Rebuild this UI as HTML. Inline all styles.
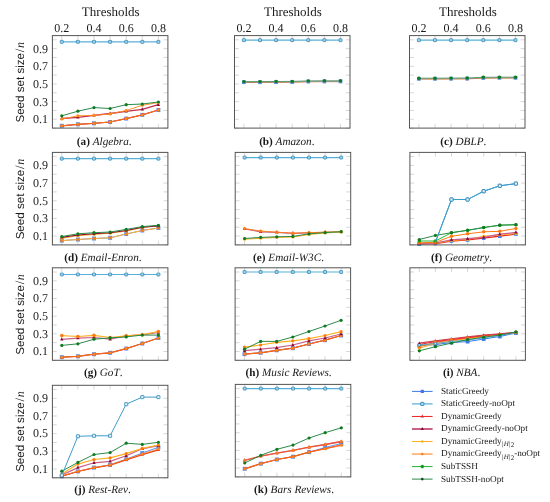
<!DOCTYPE html>
<html><head><meta charset="utf-8"><style>
html,body{margin:0;padding:0;background:#fff;}
body{width:550px;height:502px;overflow:hidden;}
svg{display:block;will-change:transform;}
text{font-family:"Liberation Serif",serif;fill:#1a1a1a;text-rendering:geometricPrecision;}
.tk{font-size:12px;}
.ttl{font-size:13px;}
.cap{font-size:11.2px;}
.lg{font-size:9.2px;}
.sub{font-size:7px;}
.sub2{font-size:7px;}
.yl{font-family:"Liberation Sans",sans-serif;font-size:11.6px;}
.sl{font-family:"Liberation Serif",serif;font-size:13px;}
.ni{font-family:"Liberation Serif",serif;font-style:italic;font-size:12px;}
</style></head><body>
<svg width="550" height="502" viewBox="0 0 550 502">
<path d="M61.8 35.6v4.2M61.8 128.1v-4.2M77.9 35.6v4.2M77.9 128.1v-4.2M94 35.6v4.2M94 128.1v-4.2M110.1 35.6v4.2M110.1 128.1v-4.2M126.2 35.6v4.2M126.2 128.1v-4.2M142.3 35.6v4.2M142.3 128.1v-4.2M158.4 35.6v4.2M158.4 128.1v-4.2M52.4 128.1h4.4M167.9 128.1h-4.4M52.4 119.27h4.4M167.9 119.27h-4.4M52.4 110.44h4.4M167.9 110.44h-4.4M52.4 101.61h4.4M167.9 101.61h-4.4M52.4 92.78h4.4M167.9 92.78h-4.4M52.4 83.95h4.4M167.9 83.95h-4.4M52.4 75.12h4.4M167.9 75.12h-4.4M52.4 66.29h4.4M167.9 66.29h-4.4M52.4 57.46h4.4M167.9 57.46h-4.4M52.4 48.63h4.4M167.9 48.63h-4.4M52.4 39.8h4.4M167.9 39.8h-4.4" stroke="#bcbcbc" stroke-width="0.6" fill="none"/>
<path d="M243.9 35.6v4.2M243.9 128.1v-4.2M260 35.6v4.2M260 128.1v-4.2M276.1 35.6v4.2M276.1 128.1v-4.2M292.2 35.6v4.2M292.2 128.1v-4.2M308.3 35.6v4.2M308.3 128.1v-4.2M324.4 35.6v4.2M324.4 128.1v-4.2M340.5 35.6v4.2M340.5 128.1v-4.2M234.5 128.1h4.4M350 128.1h-4.4M234.5 119.27h4.4M350 119.27h-4.4M234.5 110.44h4.4M350 110.44h-4.4M234.5 101.61h4.4M350 101.61h-4.4M234.5 92.78h4.4M350 92.78h-4.4M234.5 83.95h4.4M350 83.95h-4.4M234.5 75.12h4.4M350 75.12h-4.4M234.5 66.29h4.4M350 66.29h-4.4M234.5 57.46h4.4M350 57.46h-4.4M234.5 48.63h4.4M350 48.63h-4.4M234.5 39.8h4.4M350 39.8h-4.4" stroke="#bcbcbc" stroke-width="0.6" fill="none"/>
<path d="M418.9 35.6v4.2M418.9 128.1v-4.2M435 35.6v4.2M435 128.1v-4.2M451.1 35.6v4.2M451.1 128.1v-4.2M467.2 35.6v4.2M467.2 128.1v-4.2M483.3 35.6v4.2M483.3 128.1v-4.2M499.4 35.6v4.2M499.4 128.1v-4.2M515.5 35.6v4.2M515.5 128.1v-4.2M409.5 128.1h4.4M525 128.1h-4.4M409.5 119.27h4.4M525 119.27h-4.4M409.5 110.44h4.4M525 110.44h-4.4M409.5 101.61h4.4M525 101.61h-4.4M409.5 92.78h4.4M525 92.78h-4.4M409.5 83.95h4.4M525 83.95h-4.4M409.5 75.12h4.4M525 75.12h-4.4M409.5 66.29h4.4M525 66.29h-4.4M409.5 57.46h4.4M525 57.46h-4.4M409.5 48.63h4.4M525 48.63h-4.4M409.5 39.8h4.4M525 39.8h-4.4" stroke="#bcbcbc" stroke-width="0.6" fill="none"/>
<path d="M61.8 152.4v4.2M61.8 244.9v-4.2M77.9 152.4v4.2M77.9 244.9v-4.2M94 152.4v4.2M94 244.9v-4.2M110.1 152.4v4.2M110.1 244.9v-4.2M126.2 152.4v4.2M126.2 244.9v-4.2M142.3 152.4v4.2M142.3 244.9v-4.2M158.4 152.4v4.2M158.4 244.9v-4.2M52.4 244.9h4.4M167.9 244.9h-4.4M52.4 236.07h4.4M167.9 236.07h-4.4M52.4 227.24h4.4M167.9 227.24h-4.4M52.4 218.41h4.4M167.9 218.41h-4.4M52.4 209.58h4.4M167.9 209.58h-4.4M52.4 200.75h4.4M167.9 200.75h-4.4M52.4 191.92h4.4M167.9 191.92h-4.4M52.4 183.09h4.4M167.9 183.09h-4.4M52.4 174.26h4.4M167.9 174.26h-4.4M52.4 165.43h4.4M167.9 165.43h-4.4M52.4 156.6h4.4M167.9 156.6h-4.4" stroke="#bcbcbc" stroke-width="0.6" fill="none"/>
<path d="M244.6 152.4v4.2M244.6 244.9v-4.2M260.7 152.4v4.2M260.7 244.9v-4.2M276.8 152.4v4.2M276.8 244.9v-4.2M292.9 152.4v4.2M292.9 244.9v-4.2M309 152.4v4.2M309 244.9v-4.2M325.1 152.4v4.2M325.1 244.9v-4.2M341.2 152.4v4.2M341.2 244.9v-4.2M235.2 244.9h4.4M350.7 244.9h-4.4M235.2 236.07h4.4M350.7 236.07h-4.4M235.2 227.24h4.4M350.7 227.24h-4.4M235.2 218.41h4.4M350.7 218.41h-4.4M235.2 209.58h4.4M350.7 209.58h-4.4M235.2 200.75h4.4M350.7 200.75h-4.4M235.2 191.92h4.4M350.7 191.92h-4.4M235.2 183.09h4.4M350.7 183.09h-4.4M235.2 174.26h4.4M350.7 174.26h-4.4M235.2 165.43h4.4M350.7 165.43h-4.4M235.2 156.6h4.4M350.7 156.6h-4.4" stroke="#bcbcbc" stroke-width="0.6" fill="none"/>
<path d="M419.3 152.4v4.2M419.3 244.9v-4.2M435.4 152.4v4.2M435.4 244.9v-4.2M451.5 152.4v4.2M451.5 244.9v-4.2M467.6 152.4v4.2M467.6 244.9v-4.2M483.7 152.4v4.2M483.7 244.9v-4.2M499.8 152.4v4.2M499.8 244.9v-4.2M515.9 152.4v4.2M515.9 244.9v-4.2M409.9 244.9h4.4M525.4 244.9h-4.4M409.9 236.07h4.4M525.4 236.07h-4.4M409.9 227.24h4.4M525.4 227.24h-4.4M409.9 218.41h4.4M525.4 218.41h-4.4M409.9 209.58h4.4M525.4 209.58h-4.4M409.9 200.75h4.4M525.4 200.75h-4.4M409.9 191.92h4.4M525.4 191.92h-4.4M409.9 183.09h4.4M525.4 183.09h-4.4M409.9 174.26h4.4M525.4 174.26h-4.4M409.9 165.43h4.4M525.4 165.43h-4.4M409.9 156.6h4.4M525.4 156.6h-4.4" stroke="#bcbcbc" stroke-width="0.6" fill="none"/>
<path d="M61.8 267.8v4.2M61.8 360.3v-4.2M77.9 267.8v4.2M77.9 360.3v-4.2M94 267.8v4.2M94 360.3v-4.2M110.1 267.8v4.2M110.1 360.3v-4.2M126.2 267.8v4.2M126.2 360.3v-4.2M142.3 267.8v4.2M142.3 360.3v-4.2M158.4 267.8v4.2M158.4 360.3v-4.2M52.4 360.3h4.4M167.9 360.3h-4.4M52.4 351.47h4.4M167.9 351.47h-4.4M52.4 342.64h4.4M167.9 342.64h-4.4M52.4 333.81h4.4M167.9 333.81h-4.4M52.4 324.98h4.4M167.9 324.98h-4.4M52.4 316.15h4.4M167.9 316.15h-4.4M52.4 307.32h4.4M167.9 307.32h-4.4M52.4 298.49h4.4M167.9 298.49h-4.4M52.4 289.66h4.4M167.9 289.66h-4.4M52.4 280.83h4.4M167.9 280.83h-4.4M52.4 272h4.4M167.9 272h-4.4" stroke="#bcbcbc" stroke-width="0.6" fill="none"/>
<path d="M244.5 267.8v4.2M244.5 360.3v-4.2M260.6 267.8v4.2M260.6 360.3v-4.2M276.7 267.8v4.2M276.7 360.3v-4.2M292.8 267.8v4.2M292.8 360.3v-4.2M308.9 267.8v4.2M308.9 360.3v-4.2M325 267.8v4.2M325 360.3v-4.2M341.1 267.8v4.2M341.1 360.3v-4.2M235.1 360.3h4.4M350.6 360.3h-4.4M235.1 351.47h4.4M350.6 351.47h-4.4M235.1 342.64h4.4M350.6 342.64h-4.4M235.1 333.81h4.4M350.6 333.81h-4.4M235.1 324.98h4.4M350.6 324.98h-4.4M235.1 316.15h4.4M350.6 316.15h-4.4M235.1 307.32h4.4M350.6 307.32h-4.4M235.1 298.49h4.4M350.6 298.49h-4.4M235.1 289.66h4.4M350.6 289.66h-4.4M235.1 280.83h4.4M350.6 280.83h-4.4M235.1 272h4.4M350.6 272h-4.4" stroke="#bcbcbc" stroke-width="0.6" fill="none"/>
<path d="M419.3 267.8v4.2M419.3 360.3v-4.2M435.4 267.8v4.2M435.4 360.3v-4.2M451.5 267.8v4.2M451.5 360.3v-4.2M467.6 267.8v4.2M467.6 360.3v-4.2M483.7 267.8v4.2M483.7 360.3v-4.2M499.8 267.8v4.2M499.8 360.3v-4.2M515.9 267.8v4.2M515.9 360.3v-4.2M409.9 360.3h4.4M525.4 360.3h-4.4M409.9 351.47h4.4M525.4 351.47h-4.4M409.9 342.64h4.4M525.4 342.64h-4.4M409.9 333.81h4.4M525.4 333.81h-4.4M409.9 324.98h4.4M525.4 324.98h-4.4M409.9 316.15h4.4M525.4 316.15h-4.4M409.9 307.32h4.4M525.4 307.32h-4.4M409.9 298.49h4.4M525.4 298.49h-4.4M409.9 289.66h4.4M525.4 289.66h-4.4M409.9 280.83h4.4M525.4 280.83h-4.4M409.9 272h4.4M525.4 272h-4.4" stroke="#bcbcbc" stroke-width="0.6" fill="none"/>
<path d="M61.8 385.3v4.2M61.8 477.8v-4.2M77.9 385.3v4.2M77.9 477.8v-4.2M94 385.3v4.2M94 477.8v-4.2M110.1 385.3v4.2M110.1 477.8v-4.2M126.2 385.3v4.2M126.2 477.8v-4.2M142.3 385.3v4.2M142.3 477.8v-4.2M158.4 385.3v4.2M158.4 477.8v-4.2M52.4 477.8h4.4M167.9 477.8h-4.4M52.4 468.97h4.4M167.9 468.97h-4.4M52.4 460.14h4.4M167.9 460.14h-4.4M52.4 451.31h4.4M167.9 451.31h-4.4M52.4 442.48h4.4M167.9 442.48h-4.4M52.4 433.65h4.4M167.9 433.65h-4.4M52.4 424.82h4.4M167.9 424.82h-4.4M52.4 415.99h4.4M167.9 415.99h-4.4M52.4 407.16h4.4M167.9 407.16h-4.4M52.4 398.33h4.4M167.9 398.33h-4.4M52.4 389.5h4.4M167.9 389.5h-4.4" stroke="#bcbcbc" stroke-width="0.6" fill="none"/>
<path d="M244.7 384.4v4.2M244.7 476.9v-4.2M260.8 384.4v4.2M260.8 476.9v-4.2M276.9 384.4v4.2M276.9 476.9v-4.2M293 384.4v4.2M293 476.9v-4.2M309.1 384.4v4.2M309.1 476.9v-4.2M325.2 384.4v4.2M325.2 476.9v-4.2M341.3 384.4v4.2M341.3 476.9v-4.2M235.3 476.9h4.4M350.8 476.9h-4.4M235.3 468.07h4.4M350.8 468.07h-4.4M235.3 459.24h4.4M350.8 459.24h-4.4M235.3 450.41h4.4M350.8 450.41h-4.4M235.3 441.58h4.4M350.8 441.58h-4.4M235.3 432.75h4.4M350.8 432.75h-4.4M235.3 423.92h4.4M350.8 423.92h-4.4M235.3 415.09h4.4M350.8 415.09h-4.4M235.3 406.26h4.4M350.8 406.26h-4.4M235.3 397.43h4.4M350.8 397.43h-4.4M235.3 388.6h4.4M350.8 388.6h-4.4" stroke="#bcbcbc" stroke-width="0.6" fill="none"/>
<polyline points="61.8,125.8 77.9,124.3 94,123.3 110.1,122 126.2,118.6 142.3,114.9 158.4,110" fill="none" stroke="#5a90f0" stroke-width="1.0" stroke-linejoin="round" /><rect x="59.8" y="123.8" width="4" height="4" fill="#5a90f0"/><rect x="75.9" y="122.3" width="4" height="4" fill="#5a90f0"/><rect x="92" y="121.3" width="4" height="4" fill="#5a90f0"/><rect x="108.1" y="120" width="4" height="4" fill="#5a90f0"/><rect x="124.2" y="116.6" width="4" height="4" fill="#5a90f0"/><rect x="140.3" y="112.9" width="4" height="4" fill="#5a90f0"/><rect x="156.4" y="108" width="4" height="4" fill="#5a90f0"/><polyline points="61.8,125.8 77.9,124.3 94,123.3 110.1,122 126.2,118.6 142.3,114.9 158.4,110" fill="none" stroke="#f03a10" stroke-width="1.25" stroke-linejoin="round" /><polygon points="61.8,123.76 60.1,126.99 63.5,126.99" fill="#f03a10"/><polygon points="77.9,122.26 76.2,125.49 79.6,125.49" fill="#f03a10"/><polygon points="94,121.26 92.3,124.49 95.7,124.49" fill="#f03a10"/><polygon points="110.1,119.96 108.4,123.19 111.8,123.19" fill="#f03a10"/><polygon points="126.2,116.56 124.5,119.79 127.9,119.79" fill="#f03a10"/><polygon points="142.3,112.86 140.6,116.09 144,116.09" fill="#f03a10"/><polygon points="158.4,107.96 156.7,111.19 160.1,111.19" fill="#f03a10"/><polyline points="61.8,125.8 77.9,124.3 94,123.3 110.1,122 126.2,118.6 142.3,114.9 158.4,110" fill="none" stroke="#ff8418" stroke-width="0.7" stroke-linejoin="round" /><circle cx="61.8" cy="125.8" r="1.5" fill="#ff8418"/><circle cx="77.9" cy="124.3" r="1.5" fill="#ff8418"/><circle cx="94" cy="123.3" r="1.5" fill="#ff8418"/><circle cx="110.1" cy="122" r="1.5" fill="#ff8418"/><circle cx="126.2" cy="118.6" r="1.5" fill="#ff8418"/><circle cx="142.3" cy="114.9" r="1.5" fill="#ff8418"/><circle cx="158.4" cy="110" r="1.5" fill="#ff8418"/>
<polyline points="61.8,118.5 77.9,117.4 94,115.3 110.1,113.5 126.2,111.3 142.3,109.4 158.4,104.7" fill="none" stroke="#c03050" stroke-width="1.3" stroke-linejoin="round" /><polygon points="61.8,116.46 60.1,119.69 63.5,119.69" fill="#8a0a30"/><polygon points="77.9,115.36 76.2,118.59 79.6,118.59" fill="#8a0a30"/><polygon points="94,113.26 92.3,116.49 95.7,116.49" fill="#8a0a30"/><polygon points="110.1,111.46 108.4,114.69 111.8,114.69" fill="#8a0a30"/><polygon points="126.2,109.26 124.5,112.49 127.9,112.49" fill="#8a0a30"/><polygon points="142.3,107.36 140.6,110.59 144,110.59" fill="#8a0a30"/><polygon points="158.4,102.66 156.7,105.89 160.1,105.89" fill="#8a0a30"/>
<polyline points="61.8,119.1 77.9,115.8 94,115.3 110.1,114 126.2,110.5 142.3,105.3 158.4,102.5" fill="none" stroke="#ff8a18" stroke-width="0.9" stroke-linejoin="round" /><circle cx="61.8" cy="119.1" r="1.5" fill="#ff8a18"/><circle cx="77.9" cy="115.8" r="1.5" fill="#ff8a18"/><circle cx="94" cy="115.3" r="1.5" fill="#ff8a18"/><circle cx="110.1" cy="114" r="1.5" fill="#ff8a18"/><circle cx="126.2" cy="110.5" r="1.5" fill="#ff8a18"/><circle cx="142.3" cy="105.3" r="1.5" fill="#ff8a18"/><circle cx="158.4" cy="102.5" r="1.5" fill="#ff8a18"/>
<polyline points="61.8,115.8 77.9,111.2 94,107.6 110.1,108.5 126.2,104.7 142.3,104 158.4,102" fill="none" stroke="#2a8a4a" stroke-width="1.0" stroke-linejoin="round" /><circle cx="61.8" cy="115.8" r="1.6" fill="#107a20"/><circle cx="77.9" cy="111.2" r="1.6" fill="#107a20"/><circle cx="94" cy="107.6" r="1.6" fill="#107a20"/><circle cx="110.1" cy="108.5" r="1.6" fill="#107a20"/><circle cx="126.2" cy="104.7" r="1.6" fill="#107a20"/><circle cx="142.3" cy="104" r="1.6" fill="#107a20"/><circle cx="158.4" cy="102" r="1.6" fill="#107a20"/>
<polyline points="61.8,41.83 77.9,41.83 94,41.83 110.1,41.83 126.2,41.83 142.3,41.83 158.4,41.83" fill="none" stroke="#58b0d8" stroke-width="1.15" stroke-linejoin="round" /><rect x="60.3" y="40.33" width="3" height="3" rx="0.6" fill="#a6d2ea" stroke="#2a88b8" stroke-width="0.8"/><rect x="76.4" y="40.33" width="3" height="3" rx="0.6" fill="#a6d2ea" stroke="#2a88b8" stroke-width="0.8"/><rect x="92.5" y="40.33" width="3" height="3" rx="0.6" fill="#a6d2ea" stroke="#2a88b8" stroke-width="0.8"/><rect x="108.6" y="40.33" width="3" height="3" rx="0.6" fill="#a6d2ea" stroke="#2a88b8" stroke-width="0.8"/><rect x="124.7" y="40.33" width="3" height="3" rx="0.6" fill="#a6d2ea" stroke="#2a88b8" stroke-width="0.8"/><rect x="140.8" y="40.33" width="3" height="3" rx="0.6" fill="#a6d2ea" stroke="#2a88b8" stroke-width="0.8"/><rect x="156.9" y="40.33" width="3" height="3" rx="0.6" fill="#a6d2ea" stroke="#2a88b8" stroke-width="0.8"/>
<polyline points="243.9,82.5 260,82.5 276.1,82.4 292.2,82.3 308.3,81.8 324.4,81.7 340.5,81.7" fill="none" stroke="#ff7a10" stroke-width="1.0" stroke-linejoin="round" /><circle cx="243.9" cy="82.5" r="1.5" fill="#ff7a10"/><circle cx="260" cy="82.5" r="1.5" fill="#ff7a10"/><circle cx="276.1" cy="82.4" r="1.5" fill="#ff7a10"/><circle cx="292.2" cy="82.3" r="1.5" fill="#ff7a10"/><circle cx="308.3" cy="81.8" r="1.5" fill="#ff7a10"/><circle cx="324.4" cy="81.7" r="1.5" fill="#ff7a10"/><circle cx="340.5" cy="81.7" r="1.5" fill="#ff7a10"/>
<polyline points="243.9,82.2 260,82.2 276.1,82.1 292.2,82 308.3,81.5 324.4,81.4 340.5,81.4" fill="none" stroke="#5a90f0" stroke-width="0.6" stroke-linejoin="round" /><rect x="242" y="80.3" width="3.8" height="3.8" fill="#5a90f0"/><rect x="258.1" y="80.3" width="3.8" height="3.8" fill="#5a90f0"/><rect x="274.2" y="80.2" width="3.8" height="3.8" fill="#5a90f0"/><rect x="290.3" y="80.1" width="3.8" height="3.8" fill="#5a90f0"/><rect x="306.4" y="79.6" width="3.8" height="3.8" fill="#5a90f0"/><rect x="322.5" y="79.5" width="3.8" height="3.8" fill="#5a90f0"/><rect x="338.6" y="79.5" width="3.8" height="3.8" fill="#5a90f0"/>
<polyline points="243.9,81.6 260,81.6 276.1,81.5 292.2,81.4 308.3,80.9 324.4,80.8 340.5,80.8" fill="none" stroke="#5a9a6a" stroke-width="1.0" stroke-linejoin="round" /><circle cx="243.9" cy="81.6" r="1.7" fill="#107a20"/><circle cx="260" cy="81.6" r="1.7" fill="#107a20"/><circle cx="276.1" cy="81.5" r="1.7" fill="#107a20"/><circle cx="292.2" cy="81.4" r="1.7" fill="#107a20"/><circle cx="308.3" cy="80.9" r="1.7" fill="#107a20"/><circle cx="324.4" cy="80.8" r="1.7" fill="#107a20"/><circle cx="340.5" cy="80.8" r="1.7" fill="#107a20"/>
<polyline points="243.9,40.15 260,40.15 276.1,40.15 292.2,40.15 308.3,40.15 324.4,40.15 340.5,40.15" fill="none" stroke="#58b0d8" stroke-width="1.15" stroke-linejoin="round" /><rect x="242.4" y="38.65" width="3" height="3" rx="0.6" fill="#a6d2ea" stroke="#2a88b8" stroke-width="0.8"/><rect x="258.5" y="38.65" width="3" height="3" rx="0.6" fill="#a6d2ea" stroke="#2a88b8" stroke-width="0.8"/><rect x="274.6" y="38.65" width="3" height="3" rx="0.6" fill="#a6d2ea" stroke="#2a88b8" stroke-width="0.8"/><rect x="290.7" y="38.65" width="3" height="3" rx="0.6" fill="#a6d2ea" stroke="#2a88b8" stroke-width="0.8"/><rect x="306.8" y="38.65" width="3" height="3" rx="0.6" fill="#a6d2ea" stroke="#2a88b8" stroke-width="0.8"/><rect x="322.9" y="38.65" width="3" height="3" rx="0.6" fill="#a6d2ea" stroke="#2a88b8" stroke-width="0.8"/><rect x="339" y="38.65" width="3" height="3" rx="0.6" fill="#a6d2ea" stroke="#2a88b8" stroke-width="0.8"/>
<polyline points="418.9,79.1 435,79.1 451.1,79 467.2,78.9 483.3,78.2 499.4,78.1 515.5,78.1" fill="none" stroke="#ff7a10" stroke-width="1.0" stroke-linejoin="round" /><circle cx="418.9" cy="79.1" r="1.5" fill="#ff7a10"/><circle cx="435" cy="79.1" r="1.5" fill="#ff7a10"/><circle cx="451.1" cy="79" r="1.5" fill="#ff7a10"/><circle cx="467.2" cy="78.9" r="1.5" fill="#ff7a10"/><circle cx="483.3" cy="78.2" r="1.5" fill="#ff7a10"/><circle cx="499.4" cy="78.1" r="1.5" fill="#ff7a10"/><circle cx="515.5" cy="78.1" r="1.5" fill="#ff7a10"/>
<polyline points="418.9,78.8 435,78.8 451.1,78.7 467.2,78.6 483.3,77.9 499.4,77.8 515.5,77.8" fill="none" stroke="#5a90f0" stroke-width="0.6" stroke-linejoin="round" /><rect x="417" y="76.9" width="3.8" height="3.8" fill="#5a90f0"/><rect x="433.1" y="76.9" width="3.8" height="3.8" fill="#5a90f0"/><rect x="449.2" y="76.8" width="3.8" height="3.8" fill="#5a90f0"/><rect x="465.3" y="76.7" width="3.8" height="3.8" fill="#5a90f0"/><rect x="481.4" y="76" width="3.8" height="3.8" fill="#5a90f0"/><rect x="497.5" y="75.9" width="3.8" height="3.8" fill="#5a90f0"/><rect x="513.6" y="75.9" width="3.8" height="3.8" fill="#5a90f0"/>
<polyline points="418.9,78.2 435,78.2 451.1,78.1 467.2,78 483.3,77.3 499.4,77.2 515.5,77.2" fill="none" stroke="#5a9a6a" stroke-width="1.0" stroke-linejoin="round" /><circle cx="418.9" cy="78.2" r="1.7" fill="#107a20"/><circle cx="435" cy="78.2" r="1.7" fill="#107a20"/><circle cx="451.1" cy="78.1" r="1.7" fill="#107a20"/><circle cx="467.2" cy="78" r="1.7" fill="#107a20"/><circle cx="483.3" cy="77.3" r="1.7" fill="#107a20"/><circle cx="499.4" cy="77.2" r="1.7" fill="#107a20"/><circle cx="515.5" cy="77.2" r="1.7" fill="#107a20"/>
<polyline points="418.9,40.15 435,40.15 451.1,40.15 467.2,40.15 483.3,40.15 499.4,40.15 515.5,40.15" fill="none" stroke="#58b0d8" stroke-width="1.15" stroke-linejoin="round" /><rect x="417.4" y="38.65" width="3" height="3" rx="0.6" fill="#a6d2ea" stroke="#2a88b8" stroke-width="0.8"/><rect x="433.5" y="38.65" width="3" height="3" rx="0.6" fill="#a6d2ea" stroke="#2a88b8" stroke-width="0.8"/><rect x="449.6" y="38.65" width="3" height="3" rx="0.6" fill="#a6d2ea" stroke="#2a88b8" stroke-width="0.8"/><rect x="465.7" y="38.65" width="3" height="3" rx="0.6" fill="#a6d2ea" stroke="#2a88b8" stroke-width="0.8"/><rect x="481.8" y="38.65" width="3" height="3" rx="0.6" fill="#a6d2ea" stroke="#2a88b8" stroke-width="0.8"/><rect x="497.9" y="38.65" width="3" height="3" rx="0.6" fill="#a6d2ea" stroke="#2a88b8" stroke-width="0.8"/><rect x="514" y="38.65" width="3" height="3" rx="0.6" fill="#a6d2ea" stroke="#2a88b8" stroke-width="0.8"/>
<polyline points="61.8,240.6 77.9,239.5 94,238.5 110.1,237.8 126.2,234 142.3,230.5 158.4,228" fill="none" stroke="#5a90f0" stroke-width="1.0" stroke-linejoin="round" /><rect x="59.8" y="238.6" width="4" height="4" fill="#5a90f0"/><rect x="75.9" y="237.5" width="4" height="4" fill="#5a90f0"/><rect x="92" y="236.5" width="4" height="4" fill="#5a90f0"/><rect x="108.1" y="235.8" width="4" height="4" fill="#5a90f0"/><rect x="124.2" y="232" width="4" height="4" fill="#5a90f0"/><rect x="140.3" y="228.5" width="4" height="4" fill="#5a90f0"/><rect x="156.4" y="226" width="4" height="4" fill="#5a90f0"/><polyline points="61.8,240.6 77.9,239.5 94,238.5 110.1,237.8 126.2,234 142.3,230.5 158.4,228" fill="none" stroke="#ffb030" stroke-width="1.0" stroke-linejoin="round" /><circle cx="61.8" cy="240.6" r="1.55" fill="#f08020"/><circle cx="77.9" cy="239.5" r="1.55" fill="#f08020"/><circle cx="94" cy="238.5" r="1.55" fill="#f08020"/><circle cx="110.1" cy="237.8" r="1.55" fill="#f08020"/><circle cx="126.2" cy="234" r="1.55" fill="#f08020"/><circle cx="142.3" cy="230.5" r="1.55" fill="#f08020"/><circle cx="158.4" cy="228" r="1.55" fill="#f08020"/>
<polyline points="61.8,238.3 77.9,235.7 94,234.5 110.1,233.2 126.2,231 142.3,227.5 158.4,225.5" fill="none" stroke="#ffb020" stroke-width="1.0" stroke-linejoin="round" /><circle cx="61.8" cy="238.3" r="1.5" fill="#ffb020"/><circle cx="77.9" cy="235.7" r="1.5" fill="#ffb020"/><circle cx="94" cy="234.5" r="1.5" fill="#ffb020"/><circle cx="110.1" cy="233.2" r="1.5" fill="#ffb020"/><circle cx="126.2" cy="231" r="1.5" fill="#ffb020"/><circle cx="142.3" cy="227.5" r="1.5" fill="#ffb020"/><circle cx="158.4" cy="225.5" r="1.5" fill="#ffb020"/>
<polyline points="61.8,237.4 77.9,235 94,233.8 110.1,232.7 126.2,230.5 142.3,227.2 158.4,226" fill="none" stroke="#8a0a30" stroke-width="1.1" stroke-linejoin="round" /><polygon points="61.8,235.36 60.1,238.59 63.5,238.59" fill="#8a0a30"/><polygon points="77.9,232.96 76.2,236.19 79.6,236.19" fill="#8a0a30"/><polygon points="94,231.76 92.3,234.99 95.7,234.99" fill="#8a0a30"/><polygon points="110.1,230.66 108.4,233.89 111.8,233.89" fill="#8a0a30"/><polygon points="126.2,228.46 124.5,231.69 127.9,231.69" fill="#8a0a30"/><polygon points="142.3,225.16 140.6,228.39 144,228.39" fill="#8a0a30"/><polygon points="158.4,223.96 156.7,227.19 160.1,227.19" fill="#8a0a30"/>
<polyline points="61.8,236.5 77.9,233.8 94,232.7 110.1,232 126.2,229.4 142.3,226.6 158.4,225.3" fill="none" stroke="#2a8a4a" stroke-width="1.0" stroke-linejoin="round" /><circle cx="61.8" cy="236.5" r="1.6" fill="#107a20"/><circle cx="77.9" cy="233.8" r="1.6" fill="#107a20"/><circle cx="94" cy="232.7" r="1.6" fill="#107a20"/><circle cx="110.1" cy="232" r="1.6" fill="#107a20"/><circle cx="126.2" cy="229.4" r="1.6" fill="#107a20"/><circle cx="142.3" cy="226.6" r="1.6" fill="#107a20"/><circle cx="158.4" cy="225.3" r="1.6" fill="#107a20"/>
<polyline points="61.8,158.63 77.9,158.63 94,158.63 110.1,158.63 126.2,158.63 142.3,158.63 158.4,158.63" fill="none" stroke="#58b0d8" stroke-width="1.15" stroke-linejoin="round" /><rect x="60.3" y="157.13" width="3" height="3" rx="0.6" fill="#a6d2ea" stroke="#2a88b8" stroke-width="0.8"/><rect x="76.4" y="157.13" width="3" height="3" rx="0.6" fill="#a6d2ea" stroke="#2a88b8" stroke-width="0.8"/><rect x="92.5" y="157.13" width="3" height="3" rx="0.6" fill="#a6d2ea" stroke="#2a88b8" stroke-width="0.8"/><rect x="108.6" y="157.13" width="3" height="3" rx="0.6" fill="#a6d2ea" stroke="#2a88b8" stroke-width="0.8"/><rect x="124.7" y="157.13" width="3" height="3" rx="0.6" fill="#a6d2ea" stroke="#2a88b8" stroke-width="0.8"/><rect x="140.8" y="157.13" width="3" height="3" rx="0.6" fill="#a6d2ea" stroke="#2a88b8" stroke-width="0.8"/><rect x="156.9" y="157.13" width="3" height="3" rx="0.6" fill="#a6d2ea" stroke="#2a88b8" stroke-width="0.8"/>
<polyline points="244.6,228.9 260.7,231.8 276.8,232.4 292.9,233.4 309,232.8 325.1,232.3 341.2,231.8" fill="none" stroke="#c8608a" stroke-width="1.2" stroke-linejoin="round" /><polygon points="244.6,226.86 242.9,230.09 246.3,230.09" fill="#8a0a30"/><polygon points="260.7,229.76 259,232.99 262.4,232.99" fill="#8a0a30"/><polygon points="276.8,230.36 275.1,233.59 278.5,233.59" fill="#8a0a30"/><polygon points="292.9,231.36 291.2,234.59 294.6,234.59" fill="#8a0a30"/><polygon points="309,230.76 307.3,233.99 310.7,233.99" fill="#8a0a30"/><polygon points="325.1,230.26 323.4,233.49 326.8,233.49" fill="#8a0a30"/><polygon points="341.2,229.76 339.5,232.99 342.9,232.99" fill="#8a0a30"/>
<polyline points="244.6,228.6 260.7,231.1 276.8,232.2 292.9,233.2 309,232.6 325.1,232.2 341.2,231.7" fill="none" stroke="#ff7a10" stroke-width="0.9" stroke-linejoin="round" /><circle cx="244.6" cy="228.6" r="1.6" fill="#ff7a10"/><circle cx="260.7" cy="231.1" r="1.6" fill="#ff7a10"/><circle cx="276.8" cy="232.2" r="1.6" fill="#ff7a10"/><circle cx="292.9" cy="233.2" r="1.6" fill="#ff7a10"/><circle cx="309" cy="232.6" r="1.6" fill="#ff7a10"/><circle cx="325.1" cy="232.2" r="1.6" fill="#ff7a10"/><circle cx="341.2" cy="231.7" r="1.6" fill="#ff7a10"/>
<polyline points="244.6,239.2 260.7,238.2 276.8,237.4 292.9,237 309,234.3 325.1,232.9 341.2,231.9" fill="none" stroke="#ffb020" stroke-width="1.2" stroke-linejoin="round" /><circle cx="244.6" cy="239.2" r="1.6" fill="#ffb020"/><circle cx="260.7" cy="238.2" r="1.6" fill="#ffb020"/><circle cx="276.8" cy="237.4" r="1.6" fill="#ffb020"/><circle cx="292.9" cy="237" r="1.6" fill="#ffb020"/><circle cx="309" cy="234.3" r="1.6" fill="#ffb020"/><circle cx="325.1" cy="232.9" r="1.6" fill="#ffb020"/><circle cx="341.2" cy="231.9" r="1.6" fill="#ffb020"/>
<polyline points="244.6,238.5 260.7,237.4 276.8,236.8 292.9,236.4 309,233.9 325.1,232.6 341.2,231.7" fill="none" stroke="#2a8a4a" stroke-width="1.0" stroke-linejoin="round" /><circle cx="244.6" cy="238.5" r="1.6" fill="#107a20"/><circle cx="260.7" cy="237.4" r="1.6" fill="#107a20"/><circle cx="276.8" cy="236.8" r="1.6" fill="#107a20"/><circle cx="292.9" cy="236.4" r="1.6" fill="#107a20"/><circle cx="309" cy="233.9" r="1.6" fill="#107a20"/><circle cx="325.1" cy="232.6" r="1.6" fill="#107a20"/><circle cx="341.2" cy="231.7" r="1.6" fill="#107a20"/>
<polyline points="244.6,157.57 260.7,157.57 276.8,157.57 292.9,157.57 309,157.57 325.1,157.57 341.2,157.57" fill="none" stroke="#58b0d8" stroke-width="1.15" stroke-linejoin="round" /><rect x="243.1" y="156.07" width="3" height="3" rx="0.6" fill="#a6d2ea" stroke="#2a88b8" stroke-width="0.8"/><rect x="259.2" y="156.07" width="3" height="3" rx="0.6" fill="#a6d2ea" stroke="#2a88b8" stroke-width="0.8"/><rect x="275.3" y="156.07" width="3" height="3" rx="0.6" fill="#a6d2ea" stroke="#2a88b8" stroke-width="0.8"/><rect x="291.4" y="156.07" width="3" height="3" rx="0.6" fill="#a6d2ea" stroke="#2a88b8" stroke-width="0.8"/><rect x="307.5" y="156.07" width="3" height="3" rx="0.6" fill="#a6d2ea" stroke="#2a88b8" stroke-width="0.8"/><rect x="323.6" y="156.07" width="3" height="3" rx="0.6" fill="#a6d2ea" stroke="#2a88b8" stroke-width="0.8"/><rect x="339.7" y="156.07" width="3" height="3" rx="0.6" fill="#a6d2ea" stroke="#2a88b8" stroke-width="0.8"/>
<polyline points="419.3,243.9 435.4,242.3 451.5,199.5 467.6,199.5 483.7,191.2 499.8,185.8 515.9,183.6" fill="none" stroke="#3c9ccc" stroke-width="1.0" stroke-linejoin="round" /><rect x="417.75" y="242.35" width="3.1" height="3.1" rx="0.4" fill="#e4f2fa" stroke="#2484b6" stroke-width="0.8"/><rect x="433.85" y="240.75" width="3.1" height="3.1" rx="0.4" fill="#e4f2fa" stroke="#2484b6" stroke-width="0.8"/><rect x="449.95" y="197.95" width="3.1" height="3.1" rx="0.4" fill="#e4f2fa" stroke="#2484b6" stroke-width="0.8"/><rect x="466.05" y="197.95" width="3.1" height="3.1" rx="0.4" fill="#e4f2fa" stroke="#2484b6" stroke-width="0.8"/><rect x="482.15" y="189.65" width="3.1" height="3.1" rx="0.4" fill="#e4f2fa" stroke="#2484b6" stroke-width="0.8"/><rect x="498.25" y="184.25" width="3.1" height="3.1" rx="0.4" fill="#e4f2fa" stroke="#2484b6" stroke-width="0.8"/><rect x="514.35" y="182.05" width="3.1" height="3.1" rx="0.4" fill="#e4f2fa" stroke="#2484b6" stroke-width="0.8"/>
<polyline points="419.3,243.8 435.4,243.5 451.5,241 467.6,239.9 483.7,238.1 499.8,236.2 515.9,234" fill="none" stroke="#f02020" stroke-width="1.3" stroke-linejoin="round" /><rect x="417.5" y="242" width="3.6" height="3.6" fill="#3a78f0"/><rect x="433.6" y="241.7" width="3.6" height="3.6" fill="#3a78f0"/><rect x="449.7" y="239.2" width="3.6" height="3.6" fill="#3a78f0"/><rect x="465.8" y="238.1" width="3.6" height="3.6" fill="#3a78f0"/><rect x="481.9" y="236.3" width="3.6" height="3.6" fill="#3a78f0"/><rect x="498" y="234.4" width="3.6" height="3.6" fill="#3a78f0"/><rect x="514.1" y="232.2" width="3.6" height="3.6" fill="#3a78f0"/>
<polyline points="419.3,243.4 435.4,243.2 451.5,240.6 467.6,239.4 483.7,236.2 499.8,235.1 515.9,233.5" fill="none" stroke="#ffb020" stroke-width="1.0" stroke-linejoin="round" /><circle cx="419.3" cy="243.4" r="1.5" fill="#ffb020"/><circle cx="435.4" cy="243.2" r="1.5" fill="#ffb020"/><circle cx="451.5" cy="240.6" r="1.5" fill="#ffb020"/><circle cx="467.6" cy="239.4" r="1.5" fill="#ffb020"/><circle cx="483.7" cy="236.2" r="1.5" fill="#ffb020"/><circle cx="499.8" cy="235.1" r="1.5" fill="#ffb020"/><circle cx="515.9" cy="233.5" r="1.5" fill="#ffb020"/>
<polyline points="419.3,243.6 435.4,243 451.5,239.9 467.6,238.7 483.7,237.3 499.8,234.2 515.9,232.4" fill="none" stroke="#c8608a" stroke-width="1.2" stroke-linejoin="round" /><polygon points="419.3,241.56 417.6,244.79 421,244.79" fill="#8a0a30"/><polygon points="435.4,240.96 433.7,244.19 437.1,244.19" fill="#8a0a30"/><polygon points="451.5,237.86 449.8,241.09 453.2,241.09" fill="#8a0a30"/><polygon points="467.6,236.66 465.9,239.89 469.3,239.89" fill="#8a0a30"/><polygon points="483.7,235.26 482,238.49 485.4,238.49" fill="#8a0a30"/><polygon points="499.8,232.16 498.1,235.39 501.5,235.39" fill="#8a0a30"/><polygon points="515.9,230.36 514.2,233.59 517.6,233.59" fill="#8a0a30"/>
<polyline points="419.3,242.8 435.4,242.3 451.5,236.3 467.6,233.8 483.7,231.8 499.8,231.3 515.9,228.5" fill="none" stroke="#ff7a10" stroke-width="1.0" stroke-linejoin="round" /><circle cx="419.3" cy="242.8" r="1.7" fill="#ff7a10"/><circle cx="435.4" cy="242.3" r="1.7" fill="#ff7a10"/><circle cx="451.5" cy="236.3" r="1.7" fill="#ff7a10"/><circle cx="467.6" cy="233.8" r="1.7" fill="#ff7a10"/><circle cx="483.7" cy="231.8" r="1.7" fill="#ff7a10"/><circle cx="499.8" cy="231.3" r="1.7" fill="#ff7a10"/><circle cx="515.9" cy="228.5" r="1.7" fill="#ff7a10"/>
<polyline points="419.3,241 435.4,241 451.5,232.7 467.6,230.3 483.7,227.5 499.8,225.2 515.9,224.7" fill="none" stroke="#22b830" stroke-width="1.0" stroke-linejoin="round" /><circle cx="419.3" cy="241" r="1.8" fill="#20a020"/><circle cx="435.4" cy="241" r="1.8" fill="#20a020"/><circle cx="451.5" cy="232.7" r="1.8" fill="#20a020"/><circle cx="467.6" cy="230.3" r="1.8" fill="#20a020"/><circle cx="483.7" cy="227.5" r="1.8" fill="#20a020"/><circle cx="499.8" cy="225.2" r="1.8" fill="#20a020"/><circle cx="515.9" cy="224.7" r="1.8" fill="#20a020"/>
<polyline points="419.3,239.5 435.4,235.4 451.5,232.7 467.6,230.3 483.7,227.5 499.8,225.2 515.9,224.7" fill="none" stroke="#2a8a4a" stroke-width="1.0" stroke-linejoin="round" /><circle cx="419.3" cy="239.5" r="1.6" fill="#107a20"/><circle cx="435.4" cy="235.4" r="1.6" fill="#107a20"/><circle cx="451.5" cy="232.7" r="1.6" fill="#107a20"/><circle cx="467.6" cy="230.3" r="1.6" fill="#107a20"/><circle cx="483.7" cy="227.5" r="1.6" fill="#107a20"/><circle cx="499.8" cy="225.2" r="1.6" fill="#107a20"/><circle cx="515.9" cy="224.7" r="1.6" fill="#107a20"/>
<polyline points="435.4,242.29 451.5,199.5 467.6,199.5 483.7,191.2 499.8,185.8 515.9,183.6" fill="none" stroke="#3c9ccc" stroke-width="1.0" stroke-linejoin="round" /><rect x="449.95" y="197.95" width="3.1" height="3.1" rx="0.4" fill="#e4f2fa" stroke="#2484b6" stroke-width="0.8"/><rect x="466.05" y="197.95" width="3.1" height="3.1" rx="0.4" fill="#e4f2fa" stroke="#2484b6" stroke-width="0.8"/><rect x="482.15" y="189.65" width="3.1" height="3.1" rx="0.4" fill="#e4f2fa" stroke="#2484b6" stroke-width="0.8"/><rect x="498.25" y="184.25" width="3.1" height="3.1" rx="0.4" fill="#e4f2fa" stroke="#2484b6" stroke-width="0.8"/><rect x="514.35" y="182.05" width="3.1" height="3.1" rx="0.4" fill="#e4f2fa" stroke="#2484b6" stroke-width="0.8"/>
<polyline points="61.8,357.2 77.9,356.3 94,354.2 110.1,352.8 126.2,348.6 142.3,343.5 158.4,338" fill="none" stroke="#5a90f0" stroke-width="1.0" stroke-linejoin="round" /><rect x="59.8" y="355.2" width="4" height="4" fill="#5a90f0"/><rect x="75.9" y="354.3" width="4" height="4" fill="#5a90f0"/><rect x="92" y="352.2" width="4" height="4" fill="#5a90f0"/><rect x="108.1" y="350.8" width="4" height="4" fill="#5a90f0"/><rect x="124.2" y="346.6" width="4" height="4" fill="#5a90f0"/><rect x="140.3" y="341.5" width="4" height="4" fill="#5a90f0"/><rect x="156.4" y="336" width="4" height="4" fill="#5a90f0"/><polyline points="61.8,357.2 77.9,356.3 94,354.2 110.1,352.8 126.2,348.6 142.3,343.5 158.4,338" fill="none" stroke="#f03a10" stroke-width="1.25" stroke-linejoin="round" /><polygon points="61.8,355.16 60.1,358.39 63.5,358.39" fill="#f03a10"/><polygon points="77.9,354.26 76.2,357.49 79.6,357.49" fill="#f03a10"/><polygon points="94,352.16 92.3,355.39 95.7,355.39" fill="#f03a10"/><polygon points="110.1,350.76 108.4,353.99 111.8,353.99" fill="#f03a10"/><polygon points="126.2,346.56 124.5,349.79 127.9,349.79" fill="#f03a10"/><polygon points="142.3,341.46 140.6,344.69 144,344.69" fill="#f03a10"/><polygon points="158.4,335.96 156.7,339.19 160.1,339.19" fill="#f03a10"/><polyline points="61.8,357.2 77.9,356.3 94,354.2 110.1,352.8 126.2,348.6 142.3,343.5 158.4,338" fill="none" stroke="#ff8418" stroke-width="0.7" stroke-linejoin="round" /><circle cx="61.8" cy="357.2" r="1.5" fill="#ff8418"/><circle cx="77.9" cy="356.3" r="1.5" fill="#ff8418"/><circle cx="94" cy="354.2" r="1.5" fill="#ff8418"/><circle cx="110.1" cy="352.8" r="1.5" fill="#ff8418"/><circle cx="126.2" cy="348.6" r="1.5" fill="#ff8418"/><circle cx="142.3" cy="343.5" r="1.5" fill="#ff8418"/><circle cx="158.4" cy="338" r="1.5" fill="#ff8418"/>
<polyline points="61.8,339.4 77.9,338.1 94,337.5 110.1,339.2 126.2,335.8 142.3,334.9 158.4,332.5" fill="none" stroke="#c8608a" stroke-width="1.2" stroke-linejoin="round" /><polygon points="61.8,337.36 60.1,340.59 63.5,340.59" fill="#8a0a30"/><polygon points="77.9,336.06 76.2,339.29 79.6,339.29" fill="#8a0a30"/><polygon points="94,335.46 92.3,338.69 95.7,338.69" fill="#8a0a30"/><polygon points="110.1,337.16 108.4,340.39 111.8,340.39" fill="#8a0a30"/><polygon points="126.2,333.76 124.5,336.99 127.9,336.99" fill="#8a0a30"/><polygon points="142.3,332.86 140.6,336.09 144,336.09" fill="#8a0a30"/><polygon points="158.4,330.46 156.7,333.69 160.1,333.69" fill="#8a0a30"/>
<polyline points="61.8,335.6 77.9,336.5 94,335.4 110.1,337.5 126.2,335.8 142.3,334.7 158.4,331.5" fill="none" stroke="#ffb020" stroke-width="1.2" stroke-linejoin="round" /><circle cx="61.8" cy="335.6" r="1.8" fill="#ff7a10"/><circle cx="77.9" cy="336.5" r="1.8" fill="#ff7a10"/><circle cx="94" cy="335.4" r="1.8" fill="#ff7a10"/><circle cx="110.1" cy="337.5" r="1.8" fill="#ff7a10"/><circle cx="126.2" cy="335.8" r="1.8" fill="#ff7a10"/><circle cx="142.3" cy="334.7" r="1.8" fill="#ff7a10"/><circle cx="158.4" cy="331.5" r="1.8" fill="#ff7a10"/>
<polyline points="61.8,345.4 77.9,343.8 94,339.2 110.1,337.9 126.2,336.9 142.3,335.1 158.4,335.1" fill="none" stroke="#2a8a4a" stroke-width="1.0" stroke-linejoin="round" /><circle cx="61.8" cy="345.4" r="1.6" fill="#107a20"/><circle cx="77.9" cy="343.8" r="1.6" fill="#107a20"/><circle cx="94" cy="339.2" r="1.6" fill="#107a20"/><circle cx="110.1" cy="337.9" r="1.6" fill="#107a20"/><circle cx="126.2" cy="336.9" r="1.6" fill="#107a20"/><circle cx="142.3" cy="335.1" r="1.6" fill="#107a20"/><circle cx="158.4" cy="335.1" r="1.6" fill="#107a20"/>
<polyline points="61.8,274.47 77.9,274.47 94,274.47 110.1,274.47 126.2,274.47 142.3,274.47 158.4,274.47" fill="none" stroke="#58b0d8" stroke-width="1.15" stroke-linejoin="round" /><rect x="60.3" y="272.97" width="3" height="3" rx="0.6" fill="#a6d2ea" stroke="#2a88b8" stroke-width="0.8"/><rect x="76.4" y="272.97" width="3" height="3" rx="0.6" fill="#a6d2ea" stroke="#2a88b8" stroke-width="0.8"/><rect x="92.5" y="272.97" width="3" height="3" rx="0.6" fill="#a6d2ea" stroke="#2a88b8" stroke-width="0.8"/><rect x="108.6" y="272.97" width="3" height="3" rx="0.6" fill="#a6d2ea" stroke="#2a88b8" stroke-width="0.8"/><rect x="124.7" y="272.97" width="3" height="3" rx="0.6" fill="#a6d2ea" stroke="#2a88b8" stroke-width="0.8"/><rect x="140.8" y="272.97" width="3" height="3" rx="0.6" fill="#a6d2ea" stroke="#2a88b8" stroke-width="0.8"/><rect x="156.9" y="272.97" width="3" height="3" rx="0.6" fill="#a6d2ea" stroke="#2a88b8" stroke-width="0.8"/>
<polyline points="244.5,354.1 260.6,352.8 276.7,350.3 292.8,348.2 308.9,344 325,340.2 341.1,335.5" fill="none" stroke="#5a90f0" stroke-width="1.0" stroke-linejoin="round" /><rect x="242.5" y="352.1" width="4" height="4" fill="#5a90f0"/><rect x="258.6" y="350.8" width="4" height="4" fill="#5a90f0"/><rect x="274.7" y="348.3" width="4" height="4" fill="#5a90f0"/><rect x="290.8" y="346.2" width="4" height="4" fill="#5a90f0"/><rect x="306.9" y="342" width="4" height="4" fill="#5a90f0"/><rect x="323" y="338.2" width="4" height="4" fill="#5a90f0"/><rect x="339.1" y="333.5" width="4" height="4" fill="#5a90f0"/><polyline points="244.5,354.1 260.6,352.8 276.7,350.3 292.8,348.2 308.9,344 325,340.2 341.1,335.5" fill="none" stroke="#f03a10" stroke-width="1.25" stroke-linejoin="round" /><polygon points="244.5,352.06 242.8,355.29 246.2,355.29" fill="#f03a10"/><polygon points="260.6,350.76 258.9,353.99 262.3,353.99" fill="#f03a10"/><polygon points="276.7,348.26 275,351.49 278.4,351.49" fill="#f03a10"/><polygon points="292.8,346.16 291.1,349.39 294.5,349.39" fill="#f03a10"/><polygon points="308.9,341.96 307.2,345.19 310.6,345.19" fill="#f03a10"/><polygon points="325,338.16 323.3,341.39 326.7,341.39" fill="#f03a10"/><polygon points="341.1,333.46 339.4,336.69 342.8,336.69" fill="#f03a10"/><polyline points="244.5,354.1 260.6,352.8 276.7,350.3 292.8,348.2 308.9,344 325,340.2 341.1,335.5" fill="none" stroke="#ff8418" stroke-width="0.7" stroke-linejoin="round" /><circle cx="244.5" cy="354.1" r="1.5" fill="#ff8418"/><circle cx="260.6" cy="352.8" r="1.5" fill="#ff8418"/><circle cx="276.7" cy="350.3" r="1.5" fill="#ff8418"/><circle cx="292.8" cy="348.2" r="1.5" fill="#ff8418"/><circle cx="308.9" cy="344" r="1.5" fill="#ff8418"/><circle cx="325" cy="340.2" r="1.5" fill="#ff8418"/><circle cx="341.1" cy="335.5" r="1.5" fill="#ff8418"/>
<polyline points="244.5,350.7 260.6,349.2 276.7,347.7 292.8,345 308.9,340.8 325,338 341.1,334" fill="none" stroke="#c8608a" stroke-width="1.2" stroke-linejoin="round" /><polygon points="244.5,348.66 242.8,351.89 246.2,351.89" fill="#8a0a30"/><polygon points="260.6,347.16 258.9,350.39 262.3,350.39" fill="#8a0a30"/><polygon points="276.7,345.66 275,348.89 278.4,348.89" fill="#8a0a30"/><polygon points="292.8,342.96 291.1,346.19 294.5,346.19" fill="#8a0a30"/><polygon points="308.9,338.76 307.2,341.99 310.6,341.99" fill="#8a0a30"/><polygon points="325,335.96 323.3,339.19 326.7,339.19" fill="#8a0a30"/><polygon points="341.1,331.96 339.4,335.19 342.8,335.19" fill="#8a0a30"/>
<polyline points="244.5,347.1 260.6,345 276.7,342.3 292.8,340.8 308.9,338.7 325,335.5 341.1,331.7" fill="none" stroke="#ffb020" stroke-width="1.2" stroke-linejoin="round" /><circle cx="244.5" cy="347.1" r="1.6" fill="#ff7a10"/><circle cx="260.6" cy="345" r="1.6" fill="#ff7a10"/><circle cx="276.7" cy="342.3" r="1.6" fill="#ff7a10"/><circle cx="292.8" cy="340.8" r="1.6" fill="#ff7a10"/><circle cx="308.9" cy="338.7" r="1.6" fill="#ff7a10"/><circle cx="325" cy="335.5" r="1.6" fill="#ff7a10"/><circle cx="341.1" cy="331.7" r="1.6" fill="#ff7a10"/>
<polyline points="244.5,349.2 260.6,341.4 276.7,341.4 292.8,337 308.9,331.5 325,326 341.1,320.3" fill="none" stroke="#2a8a4a" stroke-width="1.0" stroke-linejoin="round" /><circle cx="244.5" cy="349.2" r="1.6" fill="#107a20"/><circle cx="260.6" cy="341.4" r="1.6" fill="#107a20"/><circle cx="276.7" cy="341.4" r="1.6" fill="#107a20"/><circle cx="292.8" cy="337" r="1.6" fill="#107a20"/><circle cx="308.9" cy="331.5" r="1.6" fill="#107a20"/><circle cx="325" cy="326" r="1.6" fill="#107a20"/><circle cx="341.1" cy="320.3" r="1.6" fill="#107a20"/>
<polyline points="244.5,272 260.6,272 276.7,272 292.8,272 308.9,272 325,272 341.1,272" fill="none" stroke="#58b0d8" stroke-width="1.15" stroke-linejoin="round" /><rect x="243" y="270.5" width="3" height="3" rx="0.6" fill="#a6d2ea" stroke="#2a88b8" stroke-width="0.8"/><rect x="259.1" y="270.5" width="3" height="3" rx="0.6" fill="#a6d2ea" stroke="#2a88b8" stroke-width="0.8"/><rect x="275.2" y="270.5" width="3" height="3" rx="0.6" fill="#a6d2ea" stroke="#2a88b8" stroke-width="0.8"/><rect x="291.3" y="270.5" width="3" height="3" rx="0.6" fill="#a6d2ea" stroke="#2a88b8" stroke-width="0.8"/><rect x="307.4" y="270.5" width="3" height="3" rx="0.6" fill="#a6d2ea" stroke="#2a88b8" stroke-width="0.8"/><rect x="323.5" y="270.5" width="3" height="3" rx="0.6" fill="#a6d2ea" stroke="#2a88b8" stroke-width="0.8"/><rect x="339.6" y="270.5" width="3" height="3" rx="0.6" fill="#a6d2ea" stroke="#2a88b8" stroke-width="0.8"/>
<polyline points="419.3,345.6 435.4,344.6 451.5,342.5 467.6,341.6 483.7,339 499.8,336.5 515.9,333" fill="none" stroke="#3a78f0" stroke-width="1.0" stroke-linejoin="round" /><rect x="417.4" y="343.7" width="3.8" height="3.8" fill="#3a78f0"/><rect x="433.5" y="342.7" width="3.8" height="3.8" fill="#3a78f0"/><rect x="449.6" y="340.6" width="3.8" height="3.8" fill="#3a78f0"/><rect x="465.7" y="339.7" width="3.8" height="3.8" fill="#3a78f0"/><rect x="481.8" y="337.1" width="3.8" height="3.8" fill="#3a78f0"/><rect x="497.9" y="334.6" width="3.8" height="3.8" fill="#3a78f0"/><rect x="514" y="331.1" width="3.8" height="3.8" fill="#3a78f0"/>
<polyline points="419.3,348.2 435.4,343.6 451.5,341.2 467.6,338.6 483.7,336.6 499.8,334.7 515.9,332.7" fill="none" stroke="#ffb020" stroke-width="1.0" stroke-linejoin="round" /><circle cx="419.3" cy="348.2" r="1.5" fill="#ffb020"/><circle cx="435.4" cy="343.6" r="1.5" fill="#ffb020"/><circle cx="451.5" cy="341.2" r="1.5" fill="#ffb020"/><circle cx="467.6" cy="338.6" r="1.5" fill="#ffb020"/><circle cx="483.7" cy="336.6" r="1.5" fill="#ffb020"/><circle cx="499.8" cy="334.7" r="1.5" fill="#ffb020"/><circle cx="515.9" cy="332.7" r="1.5" fill="#ffb020"/>
<polyline points="419.3,346.7 435.4,342.4 451.5,340.2 467.6,338.1 483.7,336.1 499.8,334.5 515.9,332.6" fill="none" stroke="#ff7a10" stroke-width="1.0" stroke-linejoin="round" /><circle cx="419.3" cy="346.7" r="1.7" fill="#ff7a10"/><circle cx="435.4" cy="342.4" r="1.7" fill="#ff7a10"/><circle cx="451.5" cy="340.2" r="1.7" fill="#ff7a10"/><circle cx="467.6" cy="338.1" r="1.7" fill="#ff7a10"/><circle cx="483.7" cy="336.1" r="1.7" fill="#ff7a10"/><circle cx="499.8" cy="334.5" r="1.7" fill="#ff7a10"/><circle cx="515.9" cy="332.6" r="1.7" fill="#ff7a10"/>
<polyline points="419.3,344.5 435.4,341.6 451.5,339.5 467.6,337.5 483.7,335.6 499.8,334.1 515.9,332.5" fill="none" stroke="#f02020" stroke-width="1.0" stroke-linejoin="round" /><polygon points="419.3,342.46 417.6,345.69 421,345.69" fill="#f02020"/><polygon points="435.4,339.56 433.7,342.79 437.1,342.79" fill="#f02020"/><polygon points="451.5,337.46 449.8,340.69 453.2,340.69" fill="#f02020"/><polygon points="467.6,335.46 465.9,338.69 469.3,338.69" fill="#f02020"/><polygon points="483.7,333.56 482,336.79 485.4,336.79" fill="#f02020"/><polygon points="499.8,332.06 498.1,335.29 501.5,335.29" fill="#f02020"/><polygon points="515.9,330.46 514.2,333.69 517.6,333.69" fill="#f02020"/>
<polyline points="419.3,345 435.4,343.5 451.5,341.5 467.6,340 483.7,337.8 499.8,335.6 515.9,332.6" fill="none" stroke="#4aa6d2" stroke-width="0.9" stroke-linejoin="round" /><rect x="418.1" y="343.8" width="2.4" height="2.4" rx="0.4" fill="#cfe8f4" stroke="#2484b6" stroke-width="0.8"/><rect x="434.2" y="342.3" width="2.4" height="2.4" rx="0.4" fill="#cfe8f4" stroke="#2484b6" stroke-width="0.8"/><rect x="450.3" y="340.3" width="2.4" height="2.4" rx="0.4" fill="#cfe8f4" stroke="#2484b6" stroke-width="0.8"/><rect x="466.4" y="338.8" width="2.4" height="2.4" rx="0.4" fill="#cfe8f4" stroke="#2484b6" stroke-width="0.8"/><rect x="482.5" y="336.6" width="2.4" height="2.4" rx="0.4" fill="#cfe8f4" stroke="#2484b6" stroke-width="0.8"/><rect x="498.6" y="334.4" width="2.4" height="2.4" rx="0.4" fill="#cfe8f4" stroke="#2484b6" stroke-width="0.8"/><rect x="514.7" y="331.4" width="2.4" height="2.4" rx="0.4" fill="#cfe8f4" stroke="#2484b6" stroke-width="0.8"/>
<polyline points="419.3,343.1 435.4,340.9 451.5,338.8 467.6,336.9 483.7,335.1 499.8,333.8 515.9,332.3" fill="none" stroke="#d04050" stroke-width="1.1" stroke-linejoin="round" /><polygon points="419.3,341.48 417.95,344.05 420.65,344.05" fill="#8a0a30"/><polygon points="435.4,339.28 434.05,341.84 436.75,341.84" fill="#8a0a30"/><polygon points="451.5,337.18 450.15,339.75 452.85,339.75" fill="#8a0a30"/><polygon points="467.6,335.28 466.25,337.84 468.95,337.84" fill="#8a0a30"/><polygon points="483.7,333.48 482.35,336.05 485.05,336.05" fill="#8a0a30"/><polygon points="499.8,332.18 498.45,334.75 501.15,334.75" fill="#8a0a30"/><polygon points="515.9,330.68 514.55,333.25 517.25,333.25" fill="#8a0a30"/>
<polyline points="435.4,341.5 451.5,339.4 467.6,337.5 483.7,335.7 499.8,334.4 515.9,332.9" fill="none" stroke="#ff7a20" stroke-width="0.0" stroke-linejoin="round" /><circle cx="435.4" cy="341.5" r="1.3" fill="#ff7a20"/><circle cx="451.5" cy="339.4" r="1.3" fill="#ff7a20"/><circle cx="467.6" cy="337.5" r="1.3" fill="#ff7a20"/><circle cx="483.7" cy="335.7" r="1.3" fill="#ff7a20"/><circle cx="499.8" cy="334.4" r="1.3" fill="#ff7a20"/><circle cx="515.9" cy="332.9" r="1.3" fill="#ff7a20"/>
<polyline points="419.3,350.8 435.4,346.7 451.5,343.1 467.6,339.6 483.7,337.2 499.8,335.1 515.9,331.9" fill="none" stroke="#2a8a4a" stroke-width="1.0" stroke-linejoin="round" /><circle cx="419.3" cy="350.8" r="1.6" fill="#107a20"/><circle cx="435.4" cy="346.7" r="1.6" fill="#107a20"/><circle cx="451.5" cy="343.1" r="1.6" fill="#107a20"/><circle cx="467.6" cy="339.6" r="1.6" fill="#107a20"/><circle cx="483.7" cy="337.2" r="1.6" fill="#107a20"/><circle cx="499.8" cy="335.1" r="1.6" fill="#107a20"/><circle cx="515.9" cy="331.9" r="1.6" fill="#107a20"/>
<polyline points="61.8,476.3 77.9,471.4 94,467.6 110.1,464.9 126.2,459.2 142.3,453 158.4,447.3" fill="none" stroke="#5a90f0" stroke-width="1.0" stroke-linejoin="round" /><rect x="59.8" y="474.3" width="4" height="4" fill="#5a90f0"/><rect x="75.9" y="469.4" width="4" height="4" fill="#5a90f0"/><rect x="92" y="465.6" width="4" height="4" fill="#5a90f0"/><rect x="108.1" y="462.9" width="4" height="4" fill="#5a90f0"/><rect x="124.2" y="457.2" width="4" height="4" fill="#5a90f0"/><rect x="140.3" y="451" width="4" height="4" fill="#5a90f0"/><rect x="156.4" y="445.3" width="4" height="4" fill="#5a90f0"/><polyline points="61.8,476.2 77.9,471.5 94,467.8 110.1,465.2 126.2,459.8 142.3,454.6 158.4,449.9" fill="none" stroke="#f03a10" stroke-width="1.25" stroke-linejoin="round" /><polygon points="61.8,474.16 60.1,477.39 63.5,477.39" fill="#f03a10"/><polygon points="77.9,469.46 76.2,472.69 79.6,472.69" fill="#f03a10"/><polygon points="94,465.76 92.3,468.99 95.7,468.99" fill="#f03a10"/><polygon points="110.1,463.16 108.4,466.39 111.8,466.39" fill="#f03a10"/><polygon points="126.2,457.76 124.5,460.99 127.9,460.99" fill="#f03a10"/><polygon points="142.3,452.56 140.6,455.79 144,455.79" fill="#f03a10"/><polygon points="158.4,447.86 156.7,451.09 160.1,451.09" fill="#f03a10"/><polyline points="61.8,476 77.9,471.2 94,467.6 110.1,464.9 126.2,459.3 142.3,454 158.4,448.8" fill="none" stroke="#ff8418" stroke-width="0.7" stroke-linejoin="round" /><circle cx="61.8" cy="476" r="1.5" fill="#ff8418"/><circle cx="77.9" cy="471.2" r="1.5" fill="#ff8418"/><circle cx="94" cy="467.6" r="1.5" fill="#ff8418"/><circle cx="110.1" cy="464.9" r="1.5" fill="#ff8418"/><circle cx="126.2" cy="459.3" r="1.5" fill="#ff8418"/><circle cx="142.3" cy="454" r="1.5" fill="#ff8418"/><circle cx="158.4" cy="448.8" r="1.5" fill="#ff8418"/>
<polyline points="61.8,475 77.9,467.6 94,462.8 110.1,461.4 126.2,455.7 142.3,448.8 158.4,445.7" fill="none" stroke="#c8608a" stroke-width="1.2" stroke-linejoin="round" /><polygon points="61.8,472.96 60.1,476.19 63.5,476.19" fill="#8a0a30"/><polygon points="77.9,465.56 76.2,468.79 79.6,468.79" fill="#8a0a30"/><polygon points="94,460.76 92.3,463.99 95.7,463.99" fill="#8a0a30"/><polygon points="110.1,459.36 108.4,462.59 111.8,462.59" fill="#8a0a30"/><polygon points="126.2,453.66 124.5,456.89 127.9,456.89" fill="#8a0a30"/><polygon points="142.3,446.76 140.6,449.99 144,449.99" fill="#8a0a30"/><polygon points="158.4,443.66 156.7,446.89 160.1,446.89" fill="#8a0a30"/>
<polyline points="61.8,473.9 77.9,464.1 94,459.5 110.1,457.8 126.2,453.6 142.3,448.4 158.4,445" fill="none" stroke="#ffb020" stroke-width="1.2" stroke-linejoin="round" /><circle cx="61.8" cy="473.9" r="1.6" fill="#ff7a10"/><circle cx="77.9" cy="464.1" r="1.6" fill="#ff7a10"/><circle cx="94" cy="459.5" r="1.6" fill="#ff7a10"/><circle cx="110.1" cy="457.8" r="1.6" fill="#ff7a10"/><circle cx="126.2" cy="453.6" r="1.6" fill="#ff7a10"/><circle cx="142.3" cy="448.4" r="1.6" fill="#ff7a10"/><circle cx="158.4" cy="445" r="1.6" fill="#ff7a10"/>
<polyline points="61.8,471.2 77.9,462.4 94,454.5 110.1,452.6 126.2,443.2 142.3,444.4 158.4,442.3" fill="none" stroke="#2a8a4a" stroke-width="1.0" stroke-linejoin="round" /><circle cx="61.8" cy="471.2" r="1.6" fill="#107a20"/><circle cx="77.9" cy="462.4" r="1.6" fill="#107a20"/><circle cx="94" cy="454.5" r="1.6" fill="#107a20"/><circle cx="110.1" cy="452.6" r="1.6" fill="#107a20"/><circle cx="126.2" cy="443.2" r="1.6" fill="#107a20"/><circle cx="142.3" cy="444.4" r="1.6" fill="#107a20"/><circle cx="158.4" cy="442.3" r="1.6" fill="#107a20"/>
<polyline points="61.8,475.4 77.9,436.3 94,435.8 110.1,435.8 126.2,404.2 142.3,397.1 158.4,397.1" fill="none" stroke="#3c9ccc" stroke-width="1.0" stroke-linejoin="round" /><rect x="60.25" y="473.85" width="3.1" height="3.1" rx="0.4" fill="#e4f2fa" stroke="#2484b6" stroke-width="0.8"/><rect x="76.35" y="434.75" width="3.1" height="3.1" rx="0.4" fill="#e4f2fa" stroke="#2484b6" stroke-width="0.8"/><rect x="92.45" y="434.25" width="3.1" height="3.1" rx="0.4" fill="#e4f2fa" stroke="#2484b6" stroke-width="0.8"/><rect x="108.55" y="434.25" width="3.1" height="3.1" rx="0.4" fill="#e4f2fa" stroke="#2484b6" stroke-width="0.8"/><rect x="124.65" y="402.65" width="3.1" height="3.1" rx="0.4" fill="#e4f2fa" stroke="#2484b6" stroke-width="0.8"/><rect x="140.75" y="395.55" width="3.1" height="3.1" rx="0.4" fill="#e4f2fa" stroke="#2484b6" stroke-width="0.8"/><rect x="156.85" y="395.55" width="3.1" height="3.1" rx="0.4" fill="#e4f2fa" stroke="#2484b6" stroke-width="0.8"/>
<polyline points="244.7,468.8 260.8,463.7 276.9,459.5 293,456.7 309.1,452.1 325.2,447.5 341.3,443.5" fill="none" stroke="#5a90f0" stroke-width="1.0" stroke-linejoin="round" /><rect x="242.7" y="466.8" width="4" height="4" fill="#5a90f0"/><rect x="258.8" y="461.7" width="4" height="4" fill="#5a90f0"/><rect x="274.9" y="457.5" width="4" height="4" fill="#5a90f0"/><rect x="291" y="454.7" width="4" height="4" fill="#5a90f0"/><rect x="307.1" y="450.1" width="4" height="4" fill="#5a90f0"/><rect x="323.2" y="445.5" width="4" height="4" fill="#5a90f0"/><rect x="339.3" y="441.5" width="4" height="4" fill="#5a90f0"/><polyline points="244.7,468.8 260.8,463.7 276.9,459.5 293,456.7 309.1,452.1 325.2,448.7 341.3,445.1" fill="none" stroke="#f03a10" stroke-width="1.25" stroke-linejoin="round" /><polygon points="244.7,466.76 243,469.99 246.4,469.99" fill="#f03a10"/><polygon points="260.8,461.66 259.1,464.89 262.5,464.89" fill="#f03a10"/><polygon points="276.9,457.46 275.2,460.69 278.6,460.69" fill="#f03a10"/><polygon points="293,454.66 291.3,457.89 294.7,457.89" fill="#f03a10"/><polygon points="309.1,450.06 307.4,453.29 310.8,453.29" fill="#f03a10"/><polygon points="325.2,446.66 323.5,449.89 326.9,449.89" fill="#f03a10"/><polygon points="341.3,443.06 339.6,446.29 343,446.29" fill="#f03a10"/><polyline points="244.7,468.8 260.8,463.7 276.9,459.5 293,456.7 309.1,452.1 325.2,448.7 341.3,445.1" fill="none" stroke="#ff8418" stroke-width="0.7" stroke-linejoin="round" /><circle cx="244.7" cy="468.8" r="1.5" fill="#ff8418"/><circle cx="260.8" cy="463.7" r="1.5" fill="#ff8418"/><circle cx="276.9" cy="459.5" r="1.5" fill="#ff8418"/><circle cx="293" cy="456.7" r="1.5" fill="#ff8418"/><circle cx="309.1" cy="452.1" r="1.5" fill="#ff8418"/><circle cx="325.2" cy="448.7" r="1.5" fill="#ff8418"/><circle cx="341.3" cy="445.1" r="1.5" fill="#ff8418"/>
<polyline points="244.7,460.3 260.8,456.1 276.9,453.1 293,450.4 309.1,447.2 325.2,444.5 341.3,441.5" fill="none" stroke="#d83048" stroke-width="1.3" stroke-linejoin="round" /><polygon points="244.7,458.26 243,461.49 246.4,461.49" fill="#8a0a30"/><polygon points="260.8,454.06 259.1,457.29 262.5,457.29" fill="#8a0a30"/><polygon points="276.9,451.06 275.2,454.29 278.6,454.29" fill="#8a0a30"/><polygon points="293,448.36 291.3,451.59 294.7,451.59" fill="#8a0a30"/><polygon points="309.1,445.16 307.4,448.39 310.8,448.39" fill="#8a0a30"/><polygon points="325.2,442.46 323.5,445.69 326.9,445.69" fill="#8a0a30"/><polygon points="341.3,439.46 339.6,442.69 343,442.69" fill="#8a0a30"/>
<polyline points="244.7,460.3 260.8,456.1 276.9,453.1 293,450.4 309.1,447.2 325.2,444.5 341.3,441.5" fill="none" stroke="#ff7a20" stroke-width="0.6" stroke-linejoin="round" /><circle cx="244.7" cy="460.3" r="1.6" fill="#ff7a20"/><circle cx="260.8" cy="456.1" r="1.6" fill="#ff7a20"/><circle cx="276.9" cy="453.1" r="1.6" fill="#ff7a20"/><circle cx="293" cy="450.4" r="1.6" fill="#ff7a20"/><circle cx="309.1" cy="447.2" r="1.6" fill="#ff7a20"/><circle cx="325.2" cy="444.5" r="1.6" fill="#ff7a20"/><circle cx="341.3" cy="441.5" r="1.6" fill="#ff7a20"/>
<polyline points="244.7,463 260.8,455.3 276.9,449.3 293,445.1 309.1,438 325.2,432.7 341.3,427.8" fill="none" stroke="#2a8a4a" stroke-width="1.0" stroke-linejoin="round" /><circle cx="244.7" cy="463" r="1.6" fill="#107a20"/><circle cx="260.8" cy="455.3" r="1.6" fill="#107a20"/><circle cx="276.9" cy="449.3" r="1.6" fill="#107a20"/><circle cx="293" cy="445.1" r="1.6" fill="#107a20"/><circle cx="309.1" cy="438" r="1.6" fill="#107a20"/><circle cx="325.2" cy="432.7" r="1.6" fill="#107a20"/><circle cx="341.3" cy="427.8" r="1.6" fill="#107a20"/>
<polyline points="244.7,388.6 260.8,388.6 276.9,388.6 293,388.6 309.1,388.6 325.2,388.6 341.3,388.6" fill="none" stroke="#58b0d8" stroke-width="1.15" stroke-linejoin="round" /><rect x="243.2" y="387.1" width="3" height="3" rx="0.6" fill="#a6d2ea" stroke="#2a88b8" stroke-width="0.8"/><rect x="259.3" y="387.1" width="3" height="3" rx="0.6" fill="#a6d2ea" stroke="#2a88b8" stroke-width="0.8"/><rect x="275.4" y="387.1" width="3" height="3" rx="0.6" fill="#a6d2ea" stroke="#2a88b8" stroke-width="0.8"/><rect x="291.5" y="387.1" width="3" height="3" rx="0.6" fill="#a6d2ea" stroke="#2a88b8" stroke-width="0.8"/><rect x="307.6" y="387.1" width="3" height="3" rx="0.6" fill="#a6d2ea" stroke="#2a88b8" stroke-width="0.8"/><rect x="323.7" y="387.1" width="3" height="3" rx="0.6" fill="#a6d2ea" stroke="#2a88b8" stroke-width="0.8"/><rect x="339.8" y="387.1" width="3" height="3" rx="0.6" fill="#a6d2ea" stroke="#2a88b8" stroke-width="0.8"/>
<rect x="52.4" y="35.6" width="115.5" height="92.5" fill="none" stroke="#555" stroke-width="1.0"/>
<rect x="234.5" y="35.6" width="115.5" height="92.5" fill="none" stroke="#555" stroke-width="1.0"/>
<rect x="409.5" y="35.6" width="115.5" height="92.5" fill="none" stroke="#555" stroke-width="1.0"/>
<rect x="52.4" y="152.4" width="115.5" height="92.5" fill="none" stroke="#555" stroke-width="1.0"/>
<rect x="235.2" y="152.4" width="115.5" height="92.5" fill="none" stroke="#555" stroke-width="1.0"/>
<rect x="409.9" y="152.4" width="115.5" height="92.5" fill="none" stroke="#555" stroke-width="1.0"/>
<rect x="52.4" y="267.8" width="115.5" height="92.5" fill="none" stroke="#555" stroke-width="1.0"/>
<rect x="235.1" y="267.8" width="115.5" height="92.5" fill="none" stroke="#555" stroke-width="1.0"/>
<rect x="409.9" y="267.8" width="115.5" height="92.5" fill="none" stroke="#555" stroke-width="1.0"/>
<rect x="52.4" y="385.3" width="115.5" height="92.5" fill="none" stroke="#555" stroke-width="1.0"/>
<rect x="235.3" y="384.4" width="115.5" height="92.5" fill="none" stroke="#555" stroke-width="1.0"/>
<text x="110.75" y="16.2" class="ttl" text-anchor="middle">Thresholds</text>
<text x="61.8" y="31.5" class="tk" text-anchor="middle">0.2</text>
<text x="94" y="31.5" class="tk" text-anchor="middle">0.4</text>
<text x="126.2" y="31.5" class="tk" text-anchor="middle">0.6</text>
<text x="158.4" y="31.5" class="tk" text-anchor="middle">0.8</text>
<text x="292.85" y="16.2" class="ttl" text-anchor="middle">Thresholds</text>
<text x="243.9" y="31.5" class="tk" text-anchor="middle">0.2</text>
<text x="276.1" y="31.5" class="tk" text-anchor="middle">0.4</text>
<text x="308.3" y="31.5" class="tk" text-anchor="middle">0.6</text>
<text x="340.5" y="31.5" class="tk" text-anchor="middle">0.8</text>
<text x="467.85" y="16.2" class="ttl" text-anchor="middle">Thresholds</text>
<text x="418.9" y="31.5" class="tk" text-anchor="middle">0.2</text>
<text x="451.1" y="31.5" class="tk" text-anchor="middle">0.4</text>
<text x="483.3" y="31.5" class="tk" text-anchor="middle">0.6</text>
<text x="515.5" y="31.5" class="tk" text-anchor="middle">0.8</text>
<text x="48" y="123.27" class="tk" text-anchor="end">0.1</text>
<text x="48" y="105.61" class="tk" text-anchor="end">0.3</text>
<text x="48" y="87.95" class="tk" text-anchor="end">0.5</text>
<text x="48" y="70.29" class="tk" text-anchor="end">0.7</text>
<text x="48" y="52.63" class="tk" text-anchor="end">0.9</text>
<text transform="translate(24.2 82.25) rotate(-90)" class="yl" text-anchor="middle">Seed set size<tspan class="sl" dx="0.8">/</tspan><tspan class="ni" dx="0.6">n</tspan></text>
<text x="48" y="240.07" class="tk" text-anchor="end">0.1</text>
<text x="48" y="222.41" class="tk" text-anchor="end">0.3</text>
<text x="48" y="204.75" class="tk" text-anchor="end">0.5</text>
<text x="48" y="187.09" class="tk" text-anchor="end">0.7</text>
<text x="48" y="169.43" class="tk" text-anchor="end">0.9</text>
<text transform="translate(24.2 199.05) rotate(-90)" class="yl" text-anchor="middle">Seed set size<tspan class="sl" dx="0.8">/</tspan><tspan class="ni" dx="0.6">n</tspan></text>
<text x="48" y="355.47" class="tk" text-anchor="end">0.1</text>
<text x="48" y="337.81" class="tk" text-anchor="end">0.3</text>
<text x="48" y="320.15" class="tk" text-anchor="end">0.5</text>
<text x="48" y="302.49" class="tk" text-anchor="end">0.7</text>
<text x="48" y="284.83" class="tk" text-anchor="end">0.9</text>
<text transform="translate(24.2 314.45) rotate(-90)" class="yl" text-anchor="middle">Seed set size<tspan class="sl" dx="0.8">/</tspan><tspan class="ni" dx="0.6">n</tspan></text>
<text x="48" y="472.57" class="tk" text-anchor="end">0.1</text>
<text x="48" y="454.91" class="tk" text-anchor="end">0.3</text>
<text x="48" y="437.25" class="tk" text-anchor="end">0.5</text>
<text x="48" y="419.59" class="tk" text-anchor="end">0.7</text>
<text x="48" y="401.93" class="tk" text-anchor="end">0.9</text>
<text transform="translate(24.2 431.55) rotate(-90)" class="yl" text-anchor="middle">Seed set size<tspan class="sl" dx="0.8">/</tspan><tspan class="ni" dx="0.6">n</tspan></text>
<text x="104.2" y="145.3" class="cap" text-anchor="middle"><tspan font-weight="bold">(a)</tspan> <tspan font-style="italic">Algebra</tspan>.</text>
<text x="286.8" y="145.3" class="cap" text-anchor="middle"><tspan font-weight="bold">(b)</tspan> <tspan font-style="italic">Amazon</tspan>.</text>
<text x="463.3" y="145.3" class="cap" text-anchor="middle"><tspan font-weight="bold">(c)</tspan> <tspan font-style="italic">DBLP</tspan>.</text>
<text x="102.9" y="260.6" class="cap" text-anchor="middle"><tspan font-weight="bold">(d)</tspan> <tspan font-style="italic">Email-Enron</tspan>.</text>
<text x="288.5" y="260.6" class="cap" text-anchor="middle"><tspan font-weight="bold">(e)</tspan> <tspan font-style="italic">Email-W3C</tspan>.</text>
<text x="461.5" y="260.6" class="cap" text-anchor="middle"><tspan font-weight="bold">(f)</tspan> <tspan font-style="italic">Geometry</tspan>.</text>
<text x="103.2" y="375.6" class="cap" text-anchor="middle"><tspan font-weight="bold">(g)</tspan> <tspan font-style="italic">GoT</tspan>.</text>
<text x="288.6" y="375.6" class="cap" text-anchor="middle"><tspan font-weight="bold">(h)</tspan> <tspan font-style="italic">Music Reviews</tspan>.</text>
<text x="461.6" y="375.6" class="cap" text-anchor="middle"><tspan font-weight="bold">(i)</tspan> <tspan font-style="italic">NBA</tspan>.</text>
<text x="102.5" y="493.2" class="cap" text-anchor="middle"><tspan font-weight="bold">(j)</tspan> <tspan font-style="italic">Rest-Rev</tspan>.</text>
<text x="294" y="493.2" class="cap" text-anchor="middle"><tspan font-weight="bold">(k)</tspan> <tspan font-style="italic">Bars Reviews</tspan>.</text>
<line x1="412" y1="391.4" x2="432.6" y2="391.4" stroke="#3a78f0" stroke-width="1.0"/>
<rect x="420.7" y="389.8" width="3.2" height="3.2" fill="#3a78f0"/>
<text x="441" y="393.8" class="lg">StaticGreedy</text>
<line x1="412" y1="403.93" x2="432.6" y2="403.93" stroke="#2f9ccc" stroke-width="1.0"/>
<rect x="420.7" y="402.33" width="3.2" height="3.2" rx="0.4" fill="#a8d8ee" stroke="#1f80b4" stroke-width="0.8"/>
<text x="441" y="406.33" class="lg">StaticGreedy-noOpt</text>
<line x1="412" y1="416.46" x2="432.6" y2="416.46" stroke="#f02020" stroke-width="1.0"/>
<polygon points="422.3,414.54 420.7,417.58 423.9,417.58" fill="#f02020"/>
<text x="441" y="418.86" class="lg">DynamicGreedy</text>
<line x1="412" y1="428.99" x2="432.6" y2="428.99" stroke="#c8608a" stroke-width="2.0"/>
<polygon points="422.3,427.07 420.7,430.11 423.9,430.11" fill="#8a0a30"/>
<text x="441" y="431.39" class="lg">DynamicGreedy-noOpt</text>
<line x1="412" y1="441.52" x2="432.6" y2="441.52" stroke="#ffb020" stroke-width="1.0"/>
<circle cx="422.3" cy="441.52" r="1.3" fill="#ffb020"/>
<text x="441" y="443.92" class="lg">DynamicGreedy<tspan class="sub" dy="2.2"><tspan font-style="italic">|H|</tspan></tspan><tspan class="sub2" dy="1.2">2</tspan></text>
<line x1="412" y1="454.05" x2="432.6" y2="454.05" stroke="#ff7a10" stroke-width="1.0"/>
<circle cx="422.3" cy="454.05" r="1.3" fill="#ff7a10"/>
<text x="441" y="456.45" class="lg">DynamicGreedy<tspan class="sub" dy="2.2"><tspan font-style="italic">|H|</tspan></tspan><tspan class="sub2" dy="1.2">2</tspan><tspan dy="-3.4">-noOpt</tspan></text>
<line x1="412" y1="466.58" x2="432.6" y2="466.58" stroke="#22b830" stroke-width="1.0"/>
<circle cx="422.3" cy="466.58" r="1.8" fill="#10a020"/>
<text x="441" y="468.98" class="lg">SubTSSH</text>
<line x1="412" y1="479.11" x2="432.6" y2="479.11" stroke="#2a8a4a" stroke-width="1.0"/>
<circle cx="422.3" cy="479.11" r="1.3" fill="#104a20"/>
<text x="441" y="481.51" class="lg">SubTSSH-noOpt</text>
</svg>
</body></html>
